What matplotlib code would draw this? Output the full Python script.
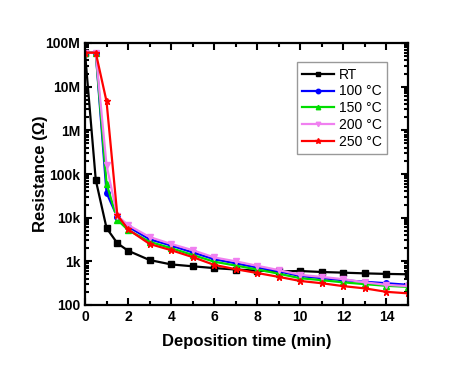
import numpy as np
import matplotlib
matplotlib.use('Agg')
from matplotlib import pyplot as plt
from matplotlib.ticker import LogLocator, NullFormatter, MultipleLocator

t = [0, 0.5, 1, 1.5, 2, 3, 4, 5, 6, 7, 8, 9, 10, 11, 12, 13, 14, 15]

rt = [6.0e7, 7.3e4, 5.8e3, 2.6e3, 1.75e3, 1.07e3, 850, 770, 700, 650, 610, 590, 600, 570, 550, 530, 515, 505]
c100 = [6.0e7, 6.0e7, 3.7e4, 1.04e4, 6.2e3, 3.2e3, 2.3e3, 1.6e3, 1.12e3, 900, 720, 590, 460, 410, 370, 340, 315, 290]
c150 = [6.0e7, 6.0e7, 6.0e4, 9.0e3, 5.2e3, 2.8e3, 2.0e3, 1.4e3, 980, 800, 650, 520, 410, 370, 330, 300, 275, 260]
c200 = [6.0e7, 6.0e7, 1.6e5, 1.1e4, 6.8e3, 3.6e3, 2.5e3, 1.8e3, 1.23e3, 1.0e3, 790, 630, 490, 440, 390, 330, 290, 270]
c250 = [6.0e7, 6.0e7, 4.6e6, 1.15e4, 5.4e3, 2.5e3, 1.8e3, 1.25e3, 830, 660, 540, 440, 355, 315, 270, 240, 200, 185]

series = [
    ('RT', rt, 'black', 's'),
    ('100 °C', c100, '#0000ff', 'o'),
    ('150 °C', c150, '#00dd00', '^'),
    ('200 °C', c200, '#f080f0', 'v'),
    ('250 °C', c250, '#ff0000', '*'),
]

plt.rcParams['font.family'] = ['Liberation Sans', 'DejaVu Sans']

fig = plt.figure(figsize=(4.74, 3.66), dpi=100)
ax = fig.add_axes([85 / 474, 1 - 305 / 366, 323 / 474, 262 / 366])

for label, vals, col, mk in series:
    ax.plot(t, vals, color=col, marker=mk, ms=4 if mk != '*' else 5, lw=1.6, label=label)

ax.set_yscale('log')
ax.set_ylim(100, 1e8)
ax.set_xlim(0, 15)

ax.xaxis.set_major_locator(MultipleLocator(2))
ax.xaxis.set_minor_locator(MultipleLocator(1))
ax.yaxis.set_minor_locator(LogLocator(base=10, subs=np.arange(2, 10), numticks=20))
ax.yaxis.set_minor_formatter(NullFormatter())
ylabs = {100: '100', 1e3: '1k', 1e4: '10k', 1e5: '100k', 1e6: '1M', 1e7: '10M', 1e8: '100M'}
ax.set_yticks(list(ylabs.keys()))
ax.set_yticklabels(list(ylabs.values()))

ax.tick_params(which='both', direction='in', top=True, right=True, width=1.5)
ax.tick_params(which='major', length=5, labelsize=10)
ax.tick_params(which='minor', length=3)
for lab in ax.get_xticklabels() + ax.get_yticklabels():
    lab.set_fontweight('bold')
for s in ax.spines.values():
    s.set_linewidth(1.6)

ax.set_xlabel('Deposition time (min)', fontsize=12, fontweight='bold', labelpad=7)
ax.set_ylabel('Resistance (Ω)', fontsize=12, fontweight='bold', labelpad=-2)

leg = ax.legend(loc='upper right', bbox_to_anchor=(0.935, 0.927), borderaxespad=0,
                fontsize=10, fancybox=False, edgecolor='gray', handlelength=2.3,
                handletextpad=0.3, borderpad=0.4, labelspacing=0.2, markerscale=0.8)
leg.get_frame().set_linewidth(1.0)

fig.savefig('out.png', dpi=100)
